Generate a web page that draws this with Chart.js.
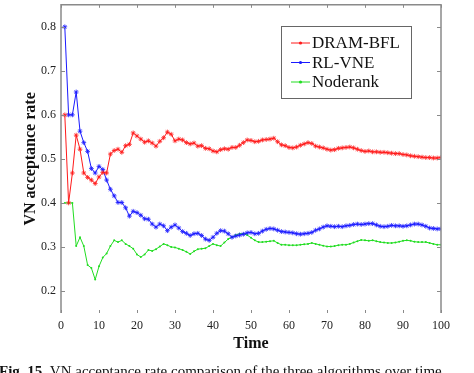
<!DOCTYPE html>
<html>
<head>
<meta charset="utf-8">
<script src="https://cdn.jsdelivr.net/npm/chart.js@4"></script>
<style>
  html, body { margin: 0; padding: 0; background: #fff; }
  #wrap { width: 474px; height: 373px; overflow: hidden; }
</style>
</head>
<body>
<div id="wrap"><canvas id="myChart" width="474" height="373"></canvas></div>
<script>
// time steps 1..100
const times = Array.from({length: 100}, (_, i) => i + 1);

const seriesNames = ['DRAM-BFL', 'RL-VNE', 'Noderank'];

const dramBfl = [
    0.600, 0.400, 0.468, 0.554, 0.522, 0.468, 0.458, 0.452, 0.444, 0.459,
    0.469, 0.468, 0.511, 0.519, 0.522, 0.515, 0.530, 0.533, 0.559, 0.552,
    0.545, 0.538, 0.541, 0.536, 0.529, 0.540, 0.548, 0.561, 0.556, 0.541,
    0.545, 0.543, 0.537, 0.534, 0.536, 0.529, 0.530, 0.524, 0.523, 0.518,
    0.516, 0.521, 0.523, 0.522, 0.526, 0.526, 0.531, 0.537, 0.543, 0.542,
    0.539, 0.540, 0.543, 0.544, 0.545, 0.547, 0.539, 0.532, 0.530, 0.526,
    0.525, 0.527, 0.531, 0.534, 0.537, 0.535, 0.529, 0.527, 0.525, 0.522,
    0.520, 0.521, 0.524, 0.525, 0.526, 0.527, 0.525, 0.522, 0.519, 0.517,
    0.518, 0.516, 0.516, 0.515, 0.515, 0.514, 0.513, 0.512, 0.512, 0.510,
    0.509, 0.507, 0.506, 0.505, 0.504, 0.503, 0.503, 0.502, 0.502, 0.503
];

const rlVne = [
    0.800, 0.600, 0.600, 0.652, 0.563, 0.537, 0.517, 0.478, 0.468, 0.483,
    0.476, 0.452, 0.431, 0.416, 0.401, 0.401, 0.389, 0.370, 0.381, 0.378,
    0.372, 0.364, 0.363, 0.352, 0.345, 0.352, 0.348, 0.337, 0.345, 0.350,
    0.343, 0.335, 0.331, 0.326, 0.330, 0.331, 0.326, 0.318, 0.315, 0.322,
    0.331, 0.337, 0.336, 0.330, 0.322, 0.325, 0.327, 0.329, 0.332, 0.333,
    0.330, 0.331, 0.336, 0.340, 0.342, 0.341, 0.338, 0.335, 0.334, 0.333,
    0.332, 0.330, 0.329, 0.330, 0.331, 0.333, 0.338, 0.341, 0.345, 0.348,
    0.347, 0.346, 0.347, 0.346, 0.348, 0.349, 0.351, 0.352, 0.351, 0.352,
    0.353, 0.353, 0.350, 0.347, 0.346, 0.347, 0.349, 0.348, 0.348, 0.347,
    0.348, 0.350, 0.352, 0.352, 0.350, 0.347, 0.343, 0.342, 0.341, 0.341
];

const noderank = [
    0.400, 0.400, 0.400, 0.302, 0.322, 0.302, 0.259, 0.252, 0.226, 0.256,
    0.276, 0.285, 0.302, 0.315, 0.311, 0.315, 0.307, 0.302, 0.296, 0.283,
    0.277, 0.283, 0.293, 0.291, 0.295, 0.301, 0.307, 0.304, 0.300, 0.299,
    0.296, 0.293, 0.289, 0.284, 0.290, 0.295, 0.296, 0.297, 0.302, 0.307,
    0.304, 0.302, 0.310, 0.318, 0.322, 0.327, 0.330, 0.330, 0.327, 0.321,
    0.315, 0.311, 0.311, 0.312, 0.313, 0.314, 0.309, 0.305, 0.305, 0.304,
    0.304, 0.304, 0.305, 0.306, 0.307, 0.309, 0.307, 0.305, 0.303, 0.301,
    0.301, 0.302, 0.304, 0.305, 0.305, 0.307, 0.310, 0.313, 0.316, 0.315,
    0.314, 0.315, 0.313, 0.311, 0.310, 0.309, 0.309, 0.310, 0.312, 0.314,
    0.315, 0.314, 0.312, 0.311, 0.311, 0.311, 0.309, 0.307, 0.305, 0.305
];

const xTicks = [0, 10, 20, 30, 40, 50, 60, 70, 80, 90, 100];
const yTicks = [0.2, 0.3, 0.4, 0.5, 0.6, 0.7, 0.8];

const AXIS_COLOR = '#8a8a8a';
const SERIF = '"Liberation Serif", "DejaVu Serif", serif';

function toPoints(values) {
    return values.map((v, i) => ({x: times[i], y: v}));
}

// matlab style box with inward ticks, no bottom line
const boxPlugin = {
    id: 'box',
    afterDraw(chart) {
        const {ctx, chartArea: a, scales: {x, y}} = chart;
        ctx.save();
        ctx.strokeStyle = AXIS_COLOR;
        ctx.lineWidth = 1.5;
        ctx.beginPath();
        ctx.moveTo(a.left, a.bottom);
        ctx.lineTo(a.left, a.top);
        ctx.lineTo(a.right, a.top);
        ctx.lineTo(a.right, a.bottom);
        ctx.stroke();

        ctx.lineWidth = 1;
        ctx.beginPath();
        xTicks.forEach(t => {
            const px = Math.round(x.getPixelForValue(t)) + 0.5;
            ctx.moveTo(px, a.bottom);
            ctx.lineTo(px, a.bottom - 3);
            ctx.moveTo(px, a.top);
            ctx.lineTo(px, a.top + 3);
        });
        yTicks.forEach(t => {
            const py = Math.round(y.getPixelForValue(t)) + 0.5;
            ctx.moveTo(a.left, py);
            ctx.lineTo(a.left + 4, py);
            ctx.moveTo(a.right, py);
            ctx.lineTo(a.right - 4, py);
        });
        ctx.stroke();
        ctx.restore();
    }
};

// legend drawn inside the plot, top right
const legendBox = {
    id: 'legendBox',
    afterDraw(chart) {
        const ctx = chart.ctx;
        const bx = 281.5, by = 26.5, bw = 130, bh = 72;
        ctx.save();
        ctx.fillStyle = '#fff';
        ctx.fillRect(bx, by, bw, bh);
        ctx.strokeStyle = '#666';
        ctx.lineWidth = 1;
        ctx.strokeRect(bx, by, bw, bh);
        ctx.font = '17px ' + SERIF;
        ctx.textBaseline = 'middle';
        chart.data.datasets.forEach((ds, i) => {
            const yy = 43 + i * 19.5;
            ctx.strokeStyle = ds.borderColor;
            ctx.lineWidth = 1;
            ctx.beginPath();
            ctx.moveTo(291, yy);
            ctx.lineTo(310, yy);
            ctx.stroke();
            ctx.fillStyle = ds.borderColor;
            ctx.beginPath();
            ctx.arc(300.5, yy, 1.6, 0, Math.PI * 2);
            ctx.fill();
            ctx.fillStyle = '#111';
            ctx.fillText(ds.label, 312, yy + 1);
        });
        ctx.restore();
    }
};

// figure caption, cut by the bottom edge
const captionPlugin = {
    id: 'caption',
    afterDraw(chart) {
        const ctx = chart.ctx;
        ctx.save();
        ctx.fillStyle = '#111';
        ctx.textBaseline = 'top';
        ctx.font = 'bold 15px ' + SERIF;
        const head = 'Fig. 15. ';
        ctx.fillText(head, -1, 365);
        const w = ctx.measureText(head).width;
        ctx.font = '15px ' + SERIF;
        ctx.fillText('VN acceptance rate comparison of the three algorithms over time', -1 + w, 365);
        ctx.restore();
    }
};

const ctx = document.getElementById('myChart').getContext('2d');
new Chart(ctx, {
    type: 'line',
    data: {
        datasets: [
            {
                label: seriesNames[0],
                data: toPoints(dramBfl),
                borderColor: '#ff1a1a',
                backgroundColor: '#ff1a1a',
                borderWidth: 1,
                pointStyle: 'star',
                pointRadius: 2.4,
                pointBorderWidth: 0.8,
                tension: 0
            },
            {
                label: seriesNames[1],
                data: toPoints(rlVne),
                borderColor: '#1a1aff',
                backgroundColor: '#1a1aff',
                borderWidth: 1,
                pointStyle: 'star',
                pointRadius: 2.4,
                pointBorderWidth: 0.8,
                tension: 0
            },
            {
                label: seriesNames[2],
                data: toPoints(noderank),
                borderColor: '#22dd22',
                backgroundColor: '#22dd22',
                borderWidth: 1,
                pointStyle: 'circle',
                pointRadius: 1,
                pointBorderWidth: 0,
                tension: 0
            }
        ]
    },
    options: {
        responsive: false,
        animation: false,
        layout: {padding: {left: 0, right: 33, top: 1, bottom: 0}},
        plugins: {
            legend: {display: false},
            tooltip: {enabled: false}
        },
        scales: {
            x: {
                type: 'linear',
                min: 0,
                max: 100,
                afterBuildTicks: s => { s.ticks = xTicks.map(v => ({value: v})); },
                afterFit: s => { s.height = 60; s.paddingLeft = 0; s.paddingRight = 0; },
                grid: {display: false, drawTicks: false},
                border: {display: false},
                ticks: {
                    padding: 6,
                    color: '#222',
                    font: {family: SERIF, size: 12}
                },
                title: {
                    display: true,
                    text: 'Time',
                    color: '#111',
                    font: {family: SERIF, size: 16, weight: 'bold'},
                    padding: {top: 0, bottom: 20}
                }
            },
            y: {
                min: 0.15,
                max: 0.85,
                afterBuildTicks: s => { s.ticks = yTicks.map(v => ({value: v})); },
                afterFit: s => { s.width = 61; s.paddingTop = 0; s.paddingBottom = 0; },
                grid: {display: false, drawTicks: false},
                border: {display: false},
                ticks: {
                    padding: 5,
                    color: '#222',
                    font: {family: SERIF, size: 12},
                    callback: v => String(Math.round(v * 10) / 10)
                },
                title: {
                    display: true,
                    text: 'VN acceptance rate',
                    color: '#111',
                    font: {family: SERIF, size: 16, weight: 'bold'},
                    padding: {top: 21, bottom: 0}
                }
            }
        }
    },
    plugins: [boxPlugin, legendBox, captionPlugin]
});
</script>
</body>
</html>
